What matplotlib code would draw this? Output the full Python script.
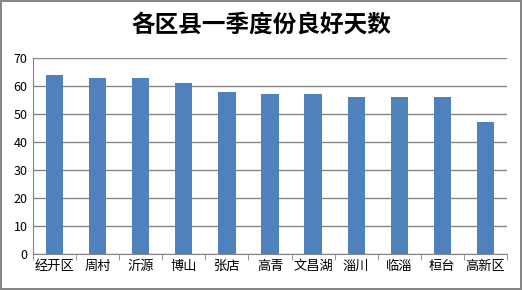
import matplotlib
matplotlib.use('Agg')
import matplotlib.pyplot as plt
import numpy as np

plt.rcParams['font.family'] = ['Noto Sans CJK SC', 'DejaVu Sans']

districts = ['经开区', '周村', '沂源', '博山', '张店', '高青', '文昌湖', '淄川', '临淄', '桓台', '高新区']
good_days = [64, 63, 63, 61, 58, 57, 57, 56, 56, 56, 47]
y_ticks = [0, 10, 20, 30, 40, 50, 60, 70]

fig = plt.figure(figsize=(5.22, 2.9), dpi=100)
fig.patch.set_edgecolor('#868686')
fig.patch.set_linewidth(1.5)
ax = fig.add_axes([0.0632, 0.124, 0.908, 0.676])

x = np.arange(len(districts))
ax.bar(x, good_days, width=0.4, color='#4F81BD', zorder=3)

ax.set_xlim(-0.5, len(districts) - 0.5)
ax.set_ylim(0, 70)
ax.set_yticks(y_ticks)
ax.yaxis.grid(True, color='#868686', linewidth=1)
ax.set_axisbelow(True)

ax.set_xticks(x)
ax.set_xticklabels(districts, fontsize=9.5)
ax.tick_params(axis='x', length=0, pad=4)
ax.set_xticks(np.arange(-0.5, len(districts)), minor=True)
ax.tick_params(axis='x', which='minor', length=4, color='#868686')
ax.tick_params(axis='y', length=0, labelsize=9, pad=4)

for s in ['top', 'right']:
    ax.spines[s].set_visible(False)
for s in ['left', 'bottom']:
    ax.spines[s].set_color('#868686')

fig.text(0.5, 0.915, '各区县一季度份良好天数', ha='center', va='center',
         fontsize=17, fontweight='bold')

fig.savefig('out.png', dpi=100, edgecolor=fig.get_edgecolor())
